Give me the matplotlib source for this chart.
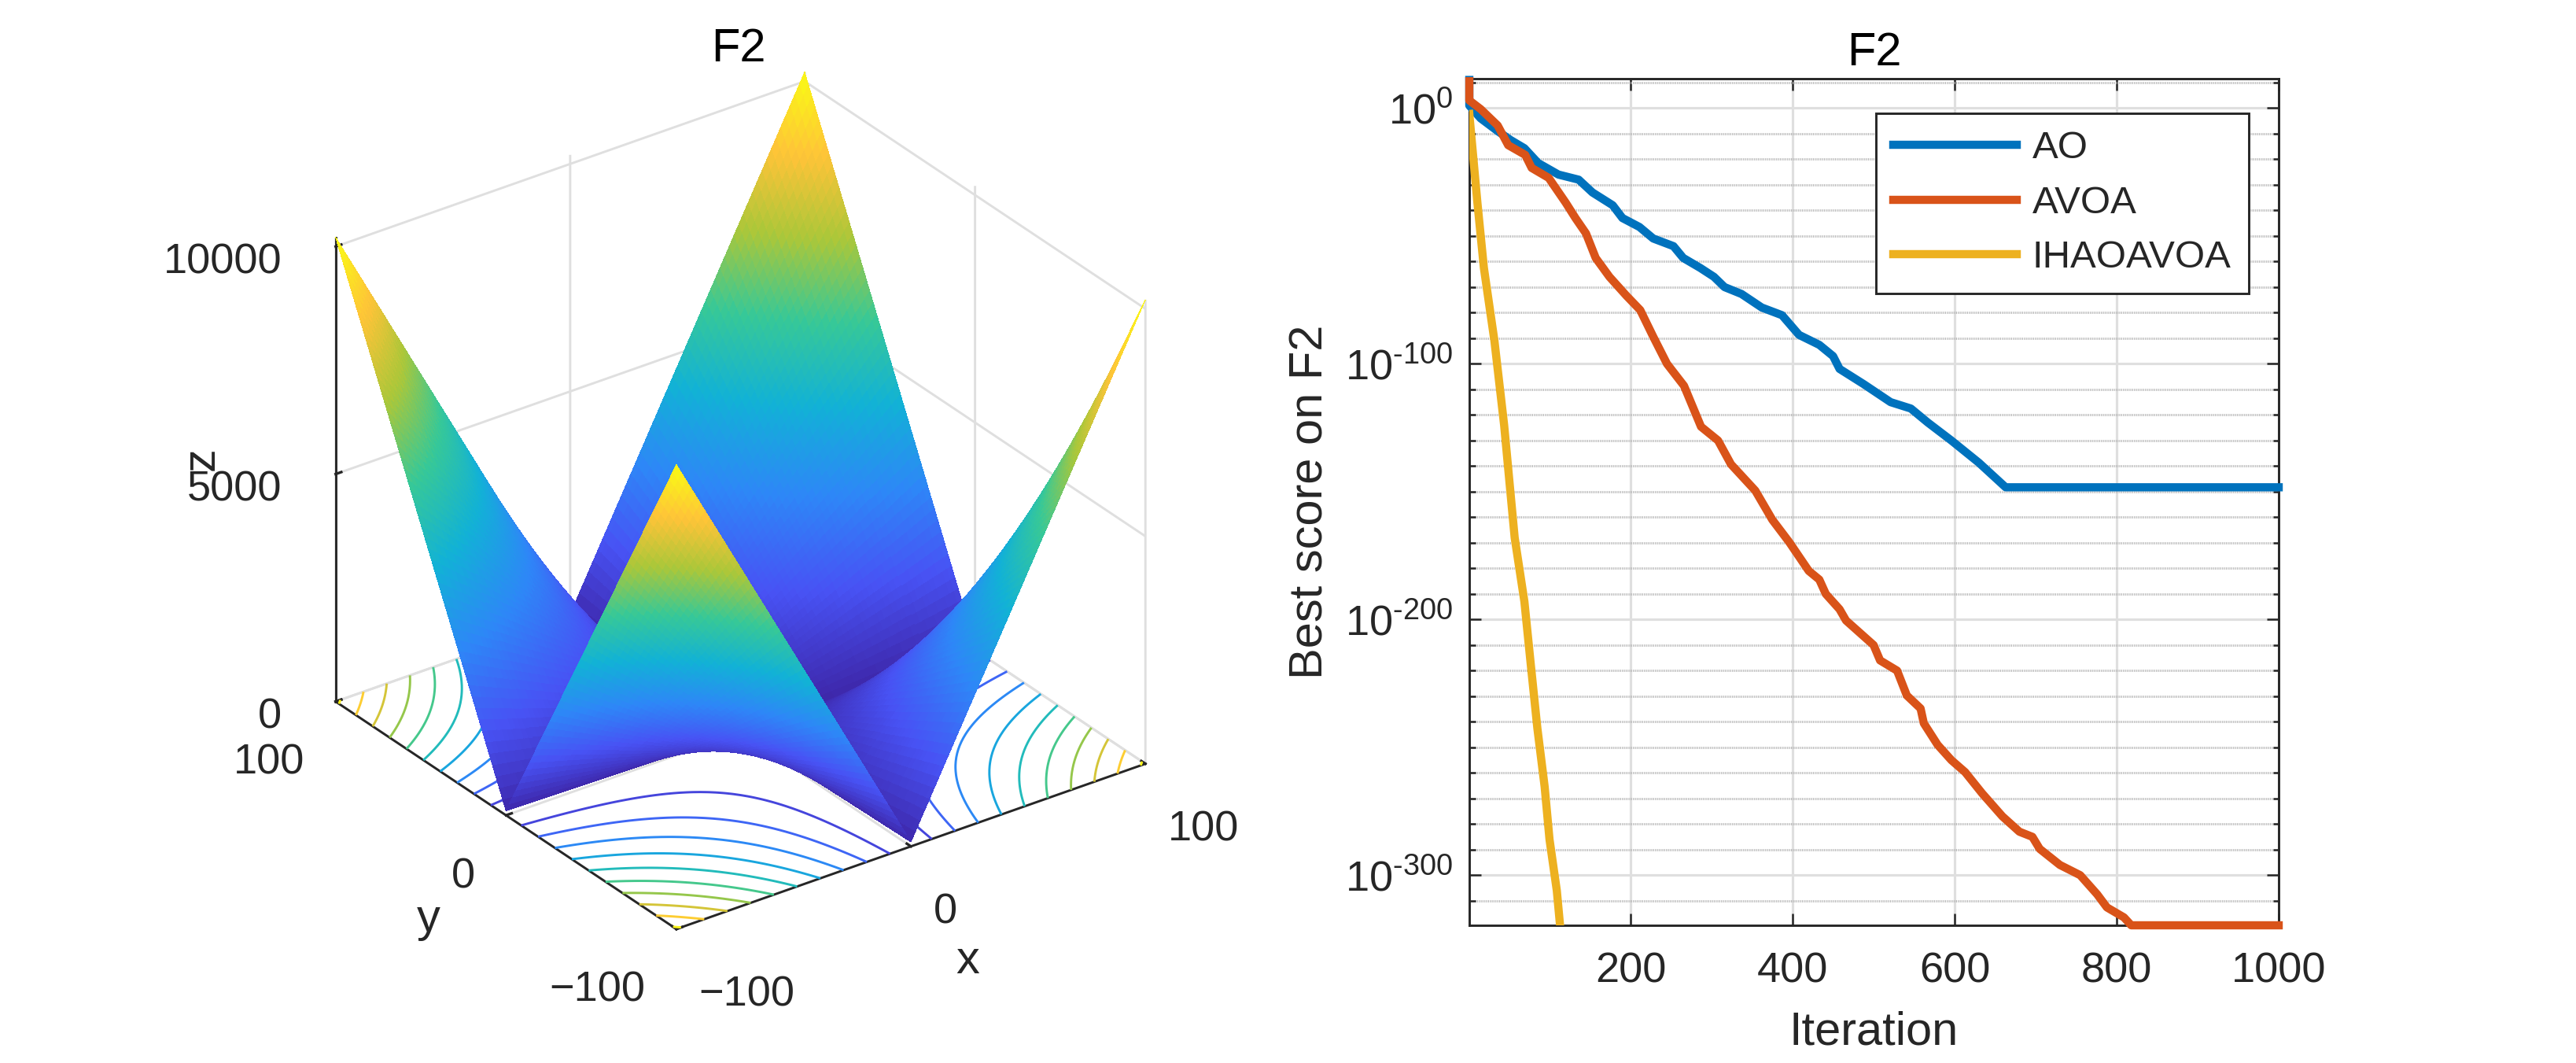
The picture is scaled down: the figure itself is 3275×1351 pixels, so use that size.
import matplotlib
matplotlib.use('Agg')
import matplotlib.pyplot as plt
import numpy as np
from matplotlib.colors import LinearSegmentedColormap
from matplotlib.transforms import ScaledTranslation

plt.rcParams['font.family'] = ['Liberation Sans', 'DejaVu Sans']
plt.rcParams['mathtext.fontset'] = 'custom'
plt.rcParams['mathtext.rm'] = 'Liberation Sans'
plt.rcParams['mathtext.default'] = 'regular'

TEXT = '#262626'
GRID = '#dfdfdf'
TICK_SIZE = 13
LABEL_SIZE = 14.3

parula_colors = [(0.2422, 0.1504, 0.6603), (0.2810, 0.3228, 0.9579), (0.1786, 0.5289, 0.9682),
                 (0.0689, 0.6948, 0.8394), (0.2161, 0.7843, 0.5923), (0.6720, 0.7793, 0.2227),
                 (0.9970, 0.7659, 0.2199), (0.9769, 0.9839, 0.0805)]
parula = LinearSegmentedColormap.from_list('parula', parula_colors, N=256)

# F2 surface, sum|x| + prod|x| sampled on the usual -100:2:100 grid
grid = np.arange(-100, 101, 2)
contour_levels = [1000, 2000, 3000, 4000, 5000, 6000, 7000, 8000, 9000, 10000]

# convergence curves, as log10(best score)
ao_iter = [1, 1, 15, 36, 52, 69, 86, 111, 136, 153, 178, 190, 211, 228, 253, 265, 286, 303, 316, 337,
           362, 387, 408, 433, 450, 458, 488, 521, 546, 567, 596, 630, 663, 1000]
ao_log = [11, 1, -4, -9, -12.5, -15.7, -21.5, -26, -28, -33, -38, -43, -46.5, -51, -54, -58.6, -62.5, -66, -70, -72.7,
          -78, -81, -88.7, -92.6, -97, -102, -108, -115, -117.5, -123, -130, -138.7, -148.3, -148.3]
avoa_iter = [1, 1, 15, 36, 49, 70, 78, 99, 120, 132, 145, 157, 174, 195, 212, 228, 245, 266, 287, 308, 324, 354, 375,
             396, 420, 433, 441, 458, 466, 500, 508, 529, 541, 558, 562, 579, 596, 613, 634, 659, 680, 696, 705, 730,
             755, 776, 788, 809, 818, 1000]
avoa_log = [10.5, 3, -0.4, -6.8, -14.5, -18.3, -23.4, -27.3, -37, -43, -49, -58.6, -66, -73.4, -79, -89.4, -100, -108.6,
            -124.6, -130, -139.3, -149.6, -161, -169.8, -181, -184.4, -190, -196, -200.4, -210, -216, -220, -229.7,
            -234.8, -240.6, -249, -255, -259.7, -268, -277, -283, -285, -289.7, -296, -300, -307.5, -312.6, -316.5,
            -319.6, -319.6]
ihaoavoa_iter = [1, 11, 19, 32, 44, 57, 69, 77, 85, 94, 100, 109, 113]
ihaoavoa_log = [-2.3, -37, -62.5, -91, -124, -168, -193, -218, -242.5, -265.4, -286, -306, -319.6]

fig = plt.figure(figsize=(3275 / 300, 1351 / 300), dpi=300)


def shift(artist, dx, dy):
    # nudge by picture pixels, mplot3d has no other way to place these
    artist.set_transform(artist.get_transform() + ScaledTranslation(dx / 300, dy / 300, fig.dpi_scale_trans))


# left panel
ax3 = fig.add_axes([0.0985, 0.069, 0.368, 0.896], projection='3d', proj_type='ortho', computed_zorder=False)
X, Y = np.meshgrid(grid, grid)
Z = np.abs(X) + np.abs(Y) + np.abs(X) * np.abs(Y)
ax3.contour(X, Y, Z, levels=contour_levels, zdir='z', offset=0, cmap=parula, vmin=0, vmax=10200,
            linewidths=0.7, zorder=1)
ax3.plot_surface(X, Y, Z, cmap=parula, vmin=0, vmax=10200, rstride=1, cstride=1, linewidth=0,
                 antialiased=False, shade=False, zorder=2)
ax3.set_xlim(-100, 100)
ax3.set_ylim(-100, 100)
ax3.set_zlim(0, 10200)
ax3.set_xticks([-100, 0, 100])
ax3.set_yticks([-100, 0, 100])
ax3.set_zticks([0, 5000, 10000])
ax3.set_box_aspect((1, 1, 0.915))
ax3.view_init(elev=29, azim=-126)
ax3.zaxis.set_rotate_label(False)
ax3.set_xlabel('x', fontsize=LABEL_SIZE, color=TEXT)
ax3.set_ylabel('y', fontsize=LABEL_SIZE, color=TEXT)
ax3.set_zlabel('z', fontsize=LABEL_SIZE, color=TEXT, rotation=90)
shift(ax3.xaxis.label, -10, -20)
shift(ax3.yaxis.label, 19, -56)
shift(ax3.zaxis.label, -48, 10)
for axis in (ax3.xaxis, ax3.yaxis, ax3.zaxis):
    axis.set_pane_color((1, 1, 1, 1))
    axis.pane.set_edgecolor((1, 1, 1, 0))
    axis.line.set_color(TEXT)
    axis.line.set_linewidth(0.7)
    axis._axinfo['grid'].update(color=GRID, linewidth=0.7)
    axis._axinfo['tick'].update(inward_factor=0.0, outward_factor=0.15)
    axis.set_tick_params(labelsize=TICK_SIZE, labelcolor=TEXT, color=TEXT, width=0.6, pad=2)
for label in ax3.get_xticklabels():
    label.set_ha('left')
    shift(label, 10, 29)
for label in ax3.get_yticklabels():
    label.set_ha('right')
    shift(label, -4, 21)
for label in ax3.get_zticklabels():
    label.set_ha('right')
    shift(label, 35, 38)
fig.text(939 / 3275, 1 - 62 / 1351, 'F2', fontsize=LABEL_SIZE, ha='center', va='center')

# right panel
ax = fig.add_axes([1868 / 3275, 1 - 1176 / 1351, 1029 / 3275, 1076 / 1351])
ax.plot(ao_iter, 10.0 ** np.array(ao_log), color='#0072bd', linewidth=2.5, label='AO', clip_on=False, zorder=3)
ax.plot(avoa_iter, 10.0 ** np.array(avoa_log), color='#d95319', linewidth=2.5, label='AVOA', clip_on=False, zorder=3)
ax.plot(ihaoavoa_iter, 10.0 ** np.array(ihaoavoa_log), color='#edb120', linewidth=2.5, label='IHAOAVOA', zorder=3)
ax.set_yscale('log')
ax.set_xlim(1, 1000)
ax.set_ylim(10.0 ** -319.6, 10.0 ** 11.5)
ax.set_xticks([200, 400, 600, 800, 1000])
ax.set_yticks([1.0, 1e-100, 1e-200, 1e-300])
ax.set_yticklabels(['$10^{0}$', r'$10^{\text{-}100}$', r'$10^{\text{-}200}$', r'$10^{\text{-}300}$'])
ax.set_yticks([10.0 ** e for e in range(10, -320, -10) if e % 100 != 0], minor=True)
ax.set_yticklabels([], minor=True)
ax.grid(True, which='major', color=GRID, linewidth=0.75)
ax.grid(True, which='minor', axis='y', color='#b8b8b8', linewidth=0.7, linestyle=(0, (0.4, 0.4)))
ax.set_axisbelow(True)
ax.tick_params(which='major', direction='in', top=True, right=True, length=3.5, width=0.6, color=TEXT,
               labelsize=TICK_SIZE, labelcolor=TEXT, pad=5)
ax.tick_params(axis='x', which='major', pad=8)
ax.tick_params(which='minor', direction='in', right=True, length=1.8, width=0.6, color=TEXT)
for spine in ax.spines.values():
    spine.set_linewidth(0.7)
    spine.set_color(TEXT)
ax.set_title('F2', fontsize=LABEL_SIZE, pad=4)
ax.set_xlabel('Iteration', fontsize=LABEL_SIZE, color=TEXT, labelpad=6)
ax.set_ylabel('Best score on F2', fontsize=LABEL_SIZE, color=TEXT, labelpad=4)
leg = ax.legend(loc='upper left', bbox_to_anchor=(0.502, 0.959), fontsize=11.8, fancybox=False, framealpha=1,
                edgecolor=TEXT, borderaxespad=0, borderpad=0.45, labelspacing=0.5, handlelength=3.2, handletextpad=0.4)
leg.get_frame().set_linewidth(0.7)
for text in leg.get_texts():
    text.set_color(TEXT)

fig.savefig('out.png', dpi=300)
